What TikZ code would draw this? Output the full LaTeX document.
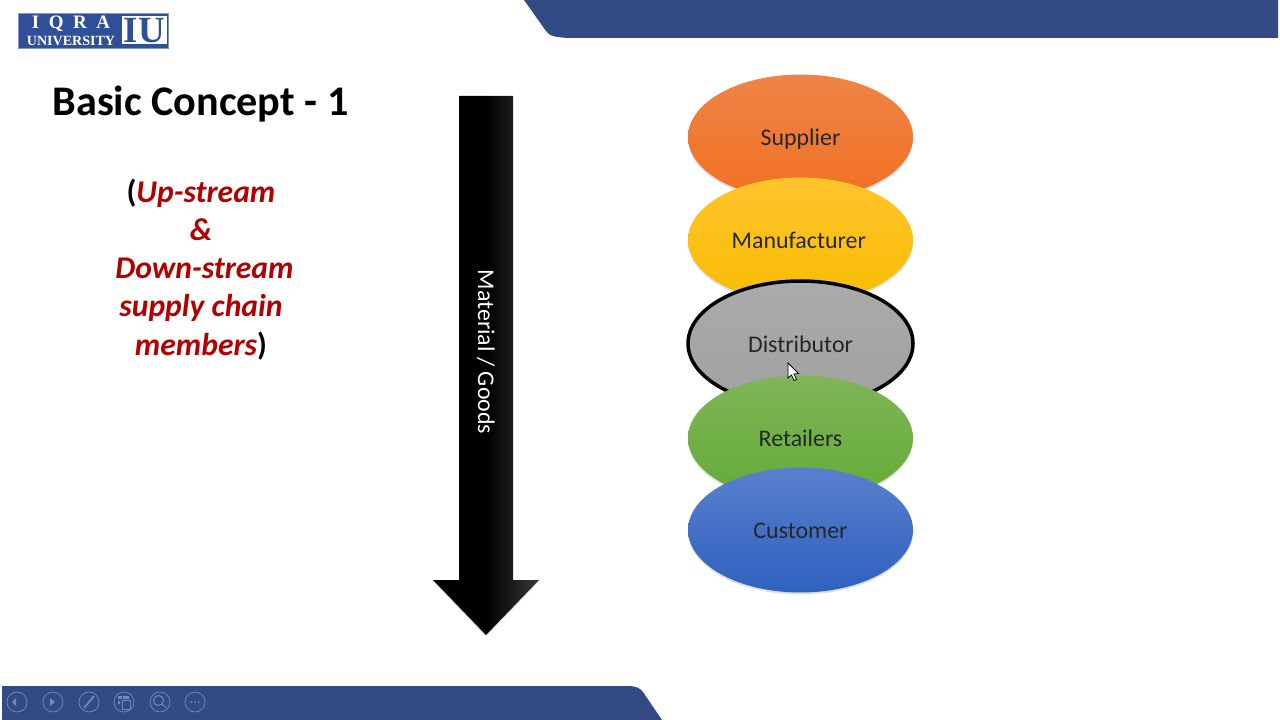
\documentclass[tikz,border=0pt]{standalone}
\usepackage{fontspec}
\usepackage{xcolor}
\usepackage{tikz}
\usetikzlibrary{shapes, shadows, positioning}
\setmainfont{Carlito}
\newfontfamily\logofont{Liberation Serif}
\definecolor{iqrablue}{rgb}{0.20, 0.29, 0.52}
\definecolor{logoblue}{rgb}{0.19, 0.31, 0.60}
\definecolor{iconblue}{rgb}{0.45, 0.54, 0.72}
\definecolor{darkred}{rgb}{0.69, 0.0, 0.0}
\definecolor{labelgray}{rgb}{0.15, 0.15, 0.15}
\definecolor{orangetop}{rgb}{0.93, 0.52, 0.28}
\definecolor{orangebot}{rgb}{0.95, 0.44, 0.13}
\definecolor{yellowtop}{rgb}{1.0, 0.77, 0.18}
\definecolor{yellowbot}{rgb}{0.97, 0.74, 0.0}
\definecolor{graytop}{rgb}{0.67, 0.67, 0.67}
\definecolor{graybot}{rgb}{0.63, 0.63, 0.63}
\definecolor{greentop}{rgb}{0.50, 0.71, 0.35}
\definecolor{greenbot}{rgb}{0.39, 0.67, 0.21}
\definecolor{bluetop}{rgb}{0.35, 0.50, 0.80}
\definecolor{bluebot}{rgb}{0.18, 0.38, 0.75}

\begin{document}
\begin{tikzpicture}[x=0.2mm, y=-0.2mm]
		\tikzstyle{member}=[ellipse, minimum width=45mm, minimum height=25mm, inner sep=0pt, text=labelgray, text height=11pt, text depth=1pt, font=\fontsize{13.6}{15}\selectfont, drop shadow={shadow xshift=0mm, shadow yshift=-0.4mm, opacity=0.25}]
		\tikzstyle{icon}=[circle, draw=iconblue, minimum size=4mm, inner sep=0pt, line width=0.15mm]
		\tikzstyle{glyph}=[fill=iconblue, draw=none]
		\useasboundingbox (0,0) rectangle (1280,720);
		%% bands
		\fill[iqrablue] (524,0) -- (546,31) .. controls (549,36) and (556,38) .. (575,38) -- (1278,38) -- (1278,0) -- cycle;
		\fill[iqrablue] (2,686) -- (628,686) .. controls (636,686) and (640,688) .. (643,692) -- (662,720) -- (2,720) -- cycle;
		%% logo
		\node (logo) at (93.5,30.5) [fill=logoblue, draw=logoblue!60!white, minimum width=30mm, minimum height=7mm, inner sep=0pt] {};
		\node (iu) at (144.5,30.5) [fill=white, text=logoblue, minimum width=9mm, minimum height=5.6mm, inner sep=0pt, font=\logofont\bfseries\fontsize{21}{21}\selectfont] {IU};
		\node (iqra) at (71,24) [text=white, inner sep=0pt, font=\logofont\bfseries\fontsize{10.8}{11}\selectfont] {I\,\,\,Q\,\,\,R\,\,\,A};
		\node (univ) at (71,41) [text=white, inner sep=0pt, font=\logofont\bfseries\fontsize{8}{8}\selectfont] {UNIVERSITY};
		%% left text
		\node (title) at (200.5,104) [inner sep=0pt, font=\bfseries\fontsize{24}{28}\selectfont] {Basic Concept - 1};
		\node (members) at (201,269.5) [inner sep=0pt, align=center, text=darkred, font=\bfseries\itshape\fontsize{18}{21.7}\selectfont] {{\color{black}\upshape(}Up-stream\\\&\\\hspace*{4pt}Down-stream\\supply chain\\members{\color{black}\upshape)}};
		%% arrow
		\path[left color=black, right color=black!78, middle color=black, drop shadow={shadow xshift=0mm, shadow yshift=-0.3mm, opacity=0.25}] (459,96) -- (513,96) -- (513,580) -- (539,580) -- (486,635) -- (433,580) -- (459,580) -- cycle;
		\node (goods) at (486,352) [rotate=-90, text=white, inner sep=0pt, font=\fontsize{13.6}{15}\selectfont] {Material / Goods};
		%% supply chain
		\node (supplier) at (800.5,137) [member, top color=orangetop, bottom color=orangebot] {Supplier};
		\node (manufacturer) at (800.5,240) [member, top color=yellowtop, bottom color=yellowbot] {\hspace*{-2pt}Manufacturer};
		\node (distributor) at (800.5,343.5) [member, draw=black, line width=0.7mm, top color=graytop, bottom color=graybot] {Distributor};
		\node (retailers) at (800.5,438) [member, top color=greentop, bottom color=greenbot] {Retailers};
		\node (customer) at (800.5,530) [member, top color=bluetop, bottom color=bluebot] {Customer};
		%% cursor
		\draw[fill=white, draw=black, line width=0.15mm] (788,363) -- (788,378) -- (791.5,375) -- (794,380.5) -- (796.5,379.5) -- (794,374) -- (798.5,373.5) -- cycle;
		%% toolbar
		\node (prev) at (17,702) [icon] {};
		\node (next) at (53,702) [icon] {};
		\node (pen) at (89,702) [icon] {};
		\node (grid) at (124,702) [icon] {};
		\node (zoom) at (160,702) [icon] {};
		\node (more) at (195,702) [icon] {};
		\fill[glyph] (12,702) -- (16,698) -- (16,706) -- cycle;
		\fill[glyph] (50,698) -- (55,702) -- (50,706) -- cycle;
		\draw[iconblue, line width=0.35mm] (84,708) -- (94,696);
		\draw[iconblue, line width=0.15mm] (122,700) rectangle (130,709);
		\fill[glyph] (118,696) rectangle (122,699) (123,696) rectangle (129,699) (118,701) rectangle (120,704);
		\draw[iconblue, line width=0.2mm] (158.5,700.5) circle (1mm) (162,704) -- (166,708);
		\foreach \i in {191.5,195,198.5}
			\fill[glyph] (\i,702) circle (0.2mm);
\end{tikzpicture}
\end{document}
